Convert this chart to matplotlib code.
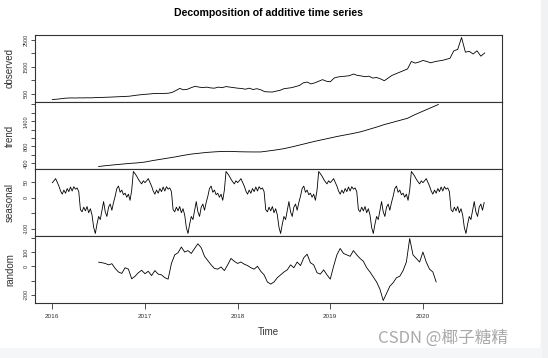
import numpy as np
import matplotlib.pyplot as plt
from matplotlib.patches import Rectangle

plt.rcParams['font.family'] = ['Liberation Sans', 'DejaVu Sans']

start = 2016.0
trend_start = 2016.5

# observed, read about twice a month
observed = [275, 285, 300, 320, 330, 335, 332, 338, 335, 340, 338, 345,
            350, 355, 360, 365, 372, 378, 385, 392, 400, 420, 440, 455,
            470, 480, 495, 500, 500, 505, 510, 540, 610, 690, 640, 660,
            720, 770, 740, 720, 740, 710, 700, 740, 720, 760, 740, 720,
            700, 690, 660, 700, 650, 680, 640, 570, 560, 555, 590, 620,
            680, 700, 720, 760, 800, 900, 930, 860, 900, 960, 1020, 960,
            940, 1080, 1120, 1140, 1150, 1170, 1230, 1180, 1160, 1130, 1150, 1080,
            1100, 1050, 980, 1080, 1180, 1240, 1300, 1360, 1420, 1700, 1640, 1680,
            1740, 1700, 1650, 1690, 1720, 1740, 1780, 1820, 2100, 2150, 2600, 2050,
            2080, 1980, 2100, 1900, 2020]

# trend, monthly
trend = [318, 340, 358, 375, 392, 405, 425, 460, 490, 520, 550, 585,
         615, 635, 655, 668, 678, 680, 672, 668, 666, 666, 690, 715,
         745, 785, 830, 875, 920, 960, 1000, 1040, 1075, 1110, 1150, 1205,
         1260, 1320, 1370, 1420, 1470, 1560, 1640, 1720, 1800]

# one year of the seasonal part (it repeats every year)
season_year = [49, 55, 62, 50, 38, 22, 12, 25, 15, 30, 20, 35,
               22, 36, 28, 32, 20, -38, -45, -30, -42, -28, -48, -35,
               -55, -95, -115, -85, -60, -70, -40, -12, -45, -60, -30, -20,
               -40, -15, 5, 30, 38, 18, 25, 10, 15, 2, 12, -8,
               25, 85, 78, 70, 60, 52, 45, 55]

# random part, about every 13 days
random_part = [29, 25, 20, 10, 18, -15, -40, -50, -10, -20, -88, -70,
               -45, -28, -52, -35, -65, -30, -55, -60, -80, -90, 20, 80,
               95, 135, 100, 110, 90, 125, 158, 130, 70, 40, 10, -15,
               -20, -5, -30, 10, 55, 35, 20, 30, 15, 5, -10, -20,
               0, -35, -60, -110, -125, -110, -80, -60, -40, -25, 10, -10,
               30, 5, 60, 85, 25, 10, -45, -55, -25, -60, -90, 0,
               80, 125, 90, 80, 70, 110, 80, 55, 35, -10, -40, -75,
               -110, -160, -240, -190, -140, -115, -80, -70, -30, 30, 195, 80,
               55, 30, 100, 30, -20, -40, -110]

obs_time = start + np.arange(len(observed)) / 24
trend_time = trend_start + np.arange(len(trend)) / 12
n_season = int(round((obs_time[-1] - start) * len(season_year))) + 1
seasonal = np.tile(season_year, 6)[:n_season]
seas_time = start + np.arange(n_season) / len(season_year)
rand_time = trend_start + np.arange(len(random_part)) / 28

panels = [
    ('observed', obs_time, observed, [500, 1000, 1500, 2000, 2500], ['500', '', '1500', '', '2500']),
    ('trend', trend_time, trend, [400, 600, 800, 1000, 1200, 1400, 1600, 1800],
     ['400', '', '800', '', '', '1400', '', '']),
    ('seasonal', seas_time, seasonal, [-100, -50, 0, 50], ['-100', '', '0', '50']),
    ('random', rand_time, random_part, [-200, -100, 0, 100, 200], ['-200', '', '0', '100', '']),
]

fig = plt.figure(figsize=(5.48, 3.58), dpi=100)
fig.patch.set_facecolor('white')

left = 35 / 548
width = 467 / 548
h = 67 / 358
bottom0 = 1 - 303 / 358
span = obs_time[-1] - obs_time[0]
xlim = (obs_time[0] - 0.04 * span, obs_time[-1] + 0.04 * span)

for i, (name, t, vals, ticks, labels) in enumerate(panels):
    ax = fig.add_axes([left, bottom0 + (3 - i) * h, width, h])
    ax.plot(t, vals, color='black', lw=0.6)
    ax.set_xlim(xlim)
    ax.margins(y=0.04)
    ax.set_yticks(ticks)
    ax.set_yticklabels(labels, rotation=90, va='center', fontsize=4)
    ax.tick_params(axis='y', length=3, width=0.6, pad=1.8, colors='#333333')
    for s in ax.spines.values():
        s.set_linewidth(0.8)
        s.set_color('#333333')
    if i < 3:
        ax.set_xticks([])
    else:
        ax.set_xticks([2016, 2017, 2018, 2019, 2020])
        ax.set_xticklabels(['2016', '2017', '2018', '2019', '2020'], fontsize=4.6)
        ax.tick_params(axis='x', length=4, width=0.6, pad=4, colors='#333333')
    yc = 1 - (35 + 67 * i + 33.5) / 358
    fig.text(10 / 548, yc, name, rotation=90, ha='center', va='center',
             fontsize=7, color='#333333')

fig.text((35 + 502) / 2 / 548, 1 - 13 / 358, 'Decomposition of additive time series',
         ha='center', va='center', fontsize=7.6, fontweight='bold')
fig.text((35 + 502) / 2 / 548, 1 - 332 / 358, 'Time', ha='center', va='center',
         fontsize=7, color='#333333')

# screenshot border and watermark
fig.patches.append(Rectangle((541 / 548, 0), 6 / 548, 1, transform=fig.transFigure,
                             color='#f1f2f4', zorder=-1))
fig.patches.append(Rectangle((0, 0), 541 / 548, 10 / 358, transform=fig.transFigure,
                             color='#f5f6f7', zorder=-1))
fig.text(508 / 548, 1 - 338 / 358, 'CSDN @椰子糖精', ha='right', va='center', fontsize=12,
         color='#a9a9a9', family=['Noto Sans CJK SC', 'DejaVu Sans'])

fig.savefig('out.png', dpi=100)
